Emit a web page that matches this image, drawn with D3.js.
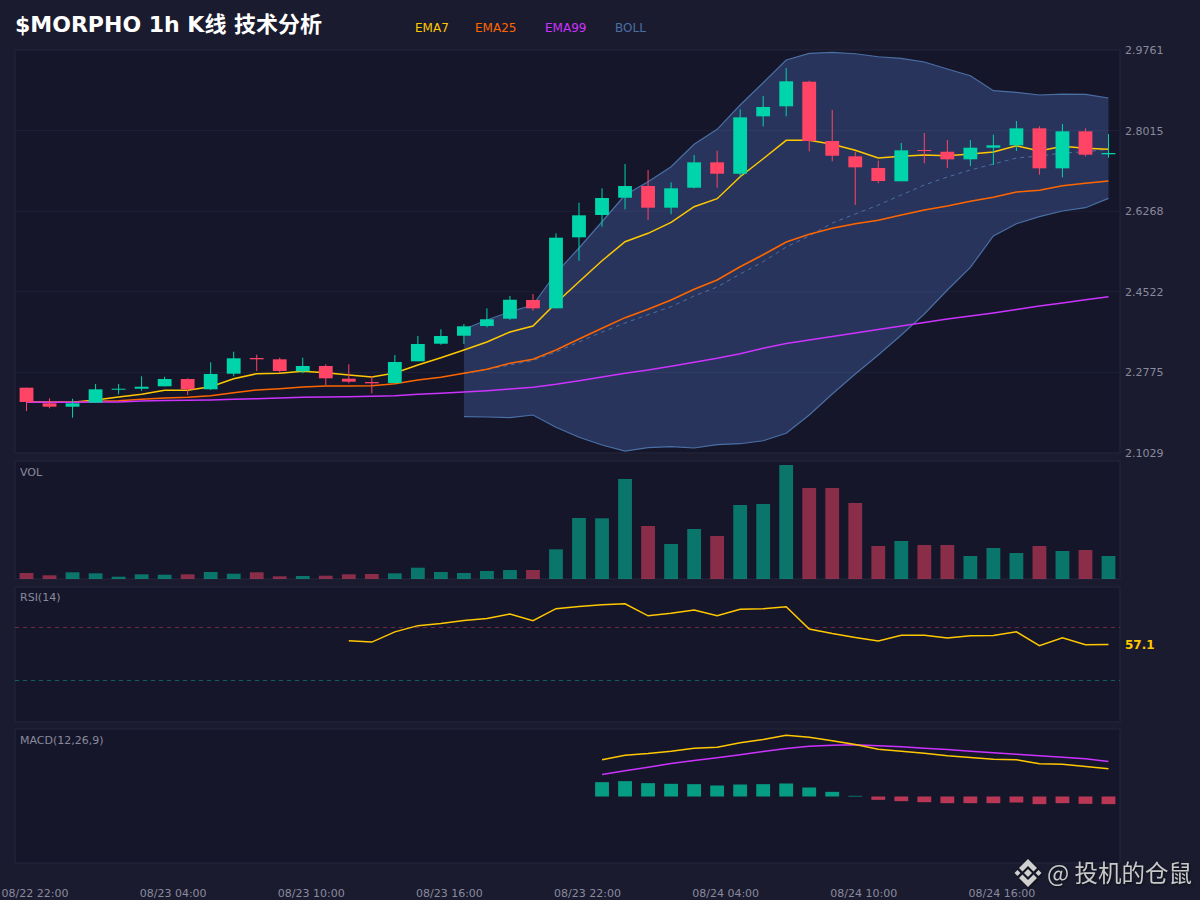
<!DOCTYPE html>
<html>
<head>
<meta charset="utf-8">
<script src="https://cdn.jsdelivr.net/npm/d3@7"></script>
<style>
  html, body { margin: 0; padding: 0; background: #1a1b2e; }
  svg { display: block; }
  text { font-family: "DejaVu Sans", "Noto Sans CJK SC", sans-serif; }
</style>
</head>
<body>
<svg id="chart"></svg>
<script>
const title = "$MORPHO 1h K线 技术分析";
const legendNames = ["EMA7", "EMA25", "EMA99", "BOLL"];

const times = [
  "08/22 22:00","08/22 23:00","08/23 00:00","08/23 01:00","08/23 02:00","08/23 03:00",
  "08/23 04:00","08/23 05:00","08/23 06:00","08/23 07:00","08/23 08:00","08/23 09:00",
  "08/23 10:00","08/23 11:00","08/23 12:00","08/23 13:00","08/23 14:00","08/23 15:00",
  "08/23 16:00","08/23 17:00","08/23 18:00","08/23 19:00","08/23 20:00","08/23 21:00",
  "08/23 22:00","08/23 23:00","08/24 00:00","08/24 01:00","08/24 02:00","08/24 03:00",
  "08/24 04:00","08/24 05:00","08/24 06:00","08/24 07:00","08/24 08:00","08/24 09:00",
  "08/24 10:00","08/24 11:00","08/24 12:00","08/24 13:00","08/24 14:00","08/24 15:00",
  "08/24 16:00","08/24 17:00","08/24 18:00","08/24 19:00","08/24 20:00","08/24 21:00"
];

const priceTicks = [2.9761, 2.8015, 2.6268, 2.4522, 2.2775, 2.1029];

const opens = [2.2444,2.2106,2.2032,2.2119,2.2400,2.2422,2.2474,2.2632,2.2409,2.2747,2.3087,2.3059,
  2.2799,2.2914,2.2639,2.2567,2.2546,2.3016,2.3397,2.3570,2.3781,2.3939,2.4344,2.4164,
  2.5702,2.6186,2.6560,2.6814,2.6344,2.6777,2.7327,2.7080,2.8324,2.8541,2.9074,2.7789,
  2.7457,2.7204,2.6916,2.7594,2.7557,2.7392,2.7644,2.7696,2.8064,2.7197,2.7999,2.7501];
const closes = [2.2134,2.2032,2.2106,2.2409,2.2422,2.2465,2.2632,2.2409,2.2741,2.3081,2.3059,2.2806,
  2.2914,2.2647,2.2574,2.2539,2.3001,2.3391,2.3564,2.3774,2.3926,2.4350,2.4164,2.5694,
  2.6179,2.6554,2.6814,2.6344,2.6764,2.7327,2.7080,2.8302,2.8526,2.9083,2.7789,2.7470,
  2.7219,2.6922,2.7587,2.7572,2.7392,2.7644,2.7696,2.8064,2.7197,2.7999,2.7492,2.7529];
const highs = [2.2444,2.2214,2.2205,2.2524,2.2524,2.2691,2.2682,2.2647,2.2994,2.3224,2.3159,2.3094,
  2.3094,2.2951,2.2951,2.2697,2.3152,2.3564,2.3709,2.3824,2.4164,2.4431,2.4474,2.5789,
  2.6452,2.6764,2.7291,2.7161,2.6894,2.7486,2.7579,2.8476,2.8764,2.9371,2.9095,2.8461,
  2.7557,2.7362,2.7746,2.7962,2.7811,2.7811,2.7926,2.8222,2.8107,2.8157,2.8064,2.7941];
const lows = [2.1939,2.1997,2.1794,2.2119,2.2301,2.2379,2.2474,2.2286,2.2394,2.2691,2.2806,2.2756,
  2.2756,2.2502,2.2539,2.2322,2.2539,2.3016,2.3375,2.3391,2.3752,2.3911,2.4112,2.4164,
  2.5195,2.5932,2.6309,2.6077,2.6201,2.6764,2.6777,2.7015,2.8107,2.8324,2.7566,2.7349,
  2.6402,2.6872,2.6916,2.7306,2.7204,2.7247,2.7269,2.7572,2.7059,2.7002,2.7457,2.7427];

const ema7 = [2.2134,2.2127,2.2127,2.2177,2.2242,2.2301,2.2387,2.2387,2.2465,2.2639,2.2747,2.2756,
  2.2799,2.2769,2.2719,2.2676,2.2762,2.2936,2.3094,2.3261,2.3434,2.3651,2.3781,2.4279,
  2.4740,2.5195,2.5607,2.5789,2.6027,2.6365,2.6539,2.7015,2.7405,2.7804,2.7804,2.7717,
  2.7587,2.7421,2.7457,2.7486,2.7470,2.7507,2.7551,2.7687,2.7572,2.7674,2.7631,2.7609];
const ema25 = [2.2134,2.2127,2.2127,2.2149,2.2162,2.2192,2.2221,2.2236,2.2270,2.2335,2.2394,2.2422,
  2.2459,2.2481,2.2481,2.2487,2.2530,2.2611,2.2669,2.2756,2.2842,2.2972,2.3059,2.3261,
  2.3499,2.3731,2.3961,2.4143,2.4344,2.4576,2.4777,2.5065,2.5325,2.5601,2.5767,2.5897,
  2.5997,2.6071,2.6186,2.6294,2.6381,2.6482,2.6569,2.6684,2.6721,2.6820,2.6872,2.6922];
const ema99 = [2.2134,2.2127,2.2127,2.2134,2.2134,2.2155,2.2166,2.2171,2.2177,2.2192,2.2205,2.2221,
  2.2236,2.2242,2.2249,2.2257,2.2270,2.2301,2.2322,2.2351,2.2379,2.2416,2.2452,2.2517,
  2.2595,2.2676,2.2756,2.2827,2.2907,2.2994,2.3081,2.3180,2.3297,2.3401,2.3477,2.3553,
  2.3629,2.3705,2.3781,2.3856,2.3932,2.3997,2.4062,2.4138,2.4214,2.4279,2.4350,2.4415];

// bollinger only starts at candle 19
const bollStart = 19;
const bollUpper = [2.3709,2.3911,2.4090,2.4236,2.4929,2.5471,2.6040,2.6619,2.6907,2.7232,2.7717,2.8042,
  2.8569,2.9052,2.9544,2.9689,2.9711,2.9680,2.9615,2.9581,2.9501,2.9349,2.9204,2.8879,
  2.8844,2.8786,2.8807,2.8801,2.8721];
const bollMid = [2.2751,2.2838,2.2936,2.3033,2.3217,2.3434,2.3651,2.3846,2.4025,2.4199,2.4431,2.4626,
  2.4907,2.5174,2.5492,2.5731,2.6012,2.6207,2.6402,2.6619,2.6836,2.7009,2.7161,2.7291,
  2.7421,2.7464,2.7529,2.7557,2.7609];
const bollLower = [2.1815,2.1809,2.1794,2.1852,2.1586,2.1369,2.1202,2.1072,2.1144,2.1165,2.1137,2.1209,
  2.1230,2.1295,2.1456,2.1852,2.2307,2.2741,2.3152,2.3586,2.4041,2.4561,2.5052,2.5731,
  2.5997,2.6149,2.6272,2.6344,2.6547];

const volumes = [60,37,67,57,23,47,43,47,70,53,67,27,30,33,47,50,57,113,70,60,80,90,90,297,
  610,607,1000,530,350,500,430,740,750,1140,910,910,760,330,380,340,340,230,310,260,330,280,290,230];

const rsiStart = 14;
const rsiLevels = [70, 30];
const rsi = [60.0,59.0,66.7,71.4,73.1,75.3,76.8,80.2,75.1,84.2,85.9,87.2,87.9,78.8,80.7,83.2,78.8,
  83.7,84.2,85.7,68.9,65.4,62.5,59.8,64.2,64.2,62.0,63.7,64.0,66.7,56.3,62.2,57.0,57.1];

const macdStart = 25;
const dif = [0.1040,0.1172,0.1219,0.1286,0.1371,0.1399,0.1522,0.1617,0.1739,0.1683,0.1579,0.1475,
  0.1342,0.1286,0.1229,0.1153,0.1106,0.1059,0.1040,0.0927,0.0917,0.0851,0.0785];
const dea = [0.0624,0.0728,0.0832,0.0936,0.1021,0.1097,0.1182,0.1276,0.1361,0.1427,0.1456,0.1465,
  0.1437,0.1409,0.1371,0.1333,0.1286,0.1238,0.1200,0.1153,0.1115,0.1068,0.0993];
const macdHist = [0.0406,0.0435,0.0378,0.0359,0.0350,0.0312,0.0340,0.0350,0.0369,0.0255,0.0132,0.0019,
  -0.0095,-0.0132,-0.0161,-0.0189,-0.0189,-0.0189,-0.0170,-0.0217,-0.0189,-0.0208,-0.0217];

const colors = {
  bg: "#1a1b2e", panel: "#15162a", border: "#25263f", grid: "#1f2138", label: "#8a8a9e",
  up: "#00d4aa", down: "#ff4466", ema7: "#ffc800", ema25: "#ff6600", ema99: "#cc33ff", boll: "#4a6fa5"
};
const legendColors = [colors.ema7, colors.ema25, colors.ema99, colors.boll];
const legendX = [415, 475, 545, 615];

const left = 15, right = 1120;
const panels = {
  price: { top: 50, bottom: 453 },
  vol: { top: 461, bottom: 579 },
  rsi: { top: 587, bottom: 722 },
  macd: { top: 729, bottom: 863 }
};

const svg = d3.select("#chart").attr("width", 1200).attr("height", 900);
svg.append("rect").attr("width", 1200).attr("height", 900).attr("fill", colors.bg);

const x = d3.scaleBand().domain(d3.range(times.length)).range([left, right]).paddingInner(0.4).paddingOuter(0.2);
const cx = (i) => x(i) + x.bandwidth() / 2;

const yPrice = d3.scaleLinear().domain([priceTicks[5], priceTicks[0]]).range([panels.price.bottom, panels.price.top]);
const yVol = d3.scaleLinear().domain([0, 1180]).range([panels.vol.bottom, panels.vol.top]);
const yRsi = d3.scaleLinear().domain([0, 100]).range([720.25, 587.75]);
const yMacd = d3.scaleLinear().domain([-0.19, 0.19]).range([863.5, 729.5]);

// panel backgrounds
Object.values(panels).forEach((p) => {
  svg.append("rect")
    .attr("x", left).attr("y", p.top)
    .attr("width", right - left).attr("height", p.bottom - p.top)
    .attr("fill", colors.panel).attr("stroke", colors.border).attr("stroke-width", 1);
});

// price grid
svg.append("g").selectAll("line").data(priceTicks.slice(1, 5)).enter().append("line")
  .attr("x1", left).attr("x2", right)
  .attr("y1", (d) => yPrice(d)).attr("y2", (d) => yPrice(d))
  .attr("stroke", colors.grid).attr("stroke-width", 1);

// price axis labels
const priceAxis = svg.append("g")
  .attr("transform", `translate(${right},0)`)
  .call(d3.axisRight(yPrice).tickValues(priceTicks).tickFormat(d3.format(".4f")).tickSize(0).tickPadding(5));
priceAxis.select(".domain").remove();
priceAxis.selectAll("text").attr("fill", colors.label).style("font-size", "11px");

// time axis labels
const timeAxis = svg.append("g")
  .attr("transform", "translate(8,889)")
  .call(d3.axisBottom(d3.scalePoint().domain(d3.range(times.length)).range([cx(0), cx(47)]))
    .tickValues(d3.range(0, times.length, 6))
    .tickFormat((i) => times[i]).tickSize(0).tickPadding(0));
timeAxis.select(".domain").remove();
timeAxis.selectAll("text").attr("fill", colors.label).style("font-size", "11px");

// bollinger
const bollX = (d, i) => cx(i + bollStart);
svg.append("path")
  .attr("d", d3.area().x(bollX).y0((d, i) => yPrice(bollLower[i])).y1((d) => yPrice(d))(bollUpper))
  .attr("fill", "#5a80d4").attr("fill-opacity", 0.29);

const drawLine = (values, start, scale, color, width, dash) => {
  svg.append("path")
    .attr("d", d3.line().x((d, i) => cx(i + start)).y((d) => scale(d))(values))
    .attr("fill", "none").attr("stroke", color).attr("stroke-width", width)
    .attr("stroke-dasharray", dash || null);
};
drawLine(bollUpper, bollStart, yPrice, colors.boll, 1.2);
drawLine(bollLower, bollStart, yPrice, colors.boll, 1.2);
drawLine(bollMid, bollStart, yPrice, colors.boll, 1, "4,4");
drawLine(ema7, 0, yPrice, colors.ema7, 1.5);
drawLine(ema25, 0, yPrice, colors.ema25, 1.5);
drawLine(ema99, 0, yPrice, colors.ema99, 1.5);

// candles
const candles = times.map((t, i) => ({ i, open: opens[i], close: closes[i], high: highs[i], low: lows[i] }));
const candleColor = (d) => (d.close >= d.open ? colors.up : colors.down);
const candle = svg.append("g").selectAll("g").data(candles).enter().append("g");
candle.append("line")
  .attr("x1", (d) => cx(d.i)).attr("x2", (d) => cx(d.i))
  .attr("y1", (d) => yPrice(d.high)).attr("y2", (d) => yPrice(d.low))
  .attr("stroke", candleColor).attr("stroke-width", 1);
candle.append("rect")
  .attr("x", (d) => x(d.i))
  .attr("width", x.bandwidth())
  .attr("y", (d) => yPrice(Math.max(d.open, d.close)))
  .attr("height", (d) => Math.max(1, yPrice(Math.min(d.open, d.close)) - yPrice(Math.max(d.open, d.close))))
  .attr("fill", candleColor);

// volume
svg.append("g").selectAll("rect").data(volumes).enter().append("rect")
  .attr("x", (d, i) => x(i))
  .attr("width", x.bandwidth())
  .attr("y", (d) => yVol(d))
  .attr("height", (d) => yVol(0) - yVol(d))
  .attr("fill", (d, i) => candleColor(candles[i]))
  .attr("fill-opacity", 0.5);

// rsi
svg.append("g").selectAll("line").data(rsiLevels).enter().append("line")
  .attr("x1", left).attr("x2", right)
  .attr("y1", (d) => yRsi(d)).attr("y2", (d) => yRsi(d))
  .attr("stroke", (d) => (d > 50 ? colors.down : colors.up))
  .attr("stroke-opacity", 0.4).attr("stroke-dasharray", "4,4");
drawLine(rsi, rsiStart, yRsi, colors.ema7, 1.5);
svg.append("text")
  .attr("x", 1125).attr("y", yRsi(rsi[rsi.length - 1]))
  .attr("dy", "0.35em").attr("fill", colors.ema7)
  .style("font-size", "12px").style("font-weight", "bold")
  .text(rsi[rsi.length - 1].toFixed(1));

// macd
svg.append("g").selectAll("rect").data(macdHist).enter().append("rect")
  .attr("x", (d, i) => x(i + macdStart))
  .attr("width", x.bandwidth())
  .attr("y", (d) => yMacd(Math.max(d, 0)))
  .attr("height", (d) => Math.abs(yMacd(d) - yMacd(0)))
  .attr("fill", (d) => (d >= 0 ? colors.up : colors.down))
  .attr("fill-opacity", 0.7);
drawLine(dea, macdStart, yMacd, colors.ema99, 1.5);
drawLine(dif, macdStart, yMacd, colors.ema7, 1.5);

// panel names
[["VOL", 476], ["RSI(14)", 601], ["MACD(12,26,9)", 744]].forEach(([name, y]) => {
  svg.append("text").attr("x", 20).attr("y", y).attr("fill", colors.label)
    .style("font-size", "11px").text(name);
});

// title and legend
svg.append("text").attr("x", 15).attr("y", 32).attr("fill", "#ffffff")
  .style("font-size", "22px").style("font-weight", "bold").text(title);
svg.append("g").selectAll("text").data(legendNames).enter().append("text")
  .attr("x", (d, i) => legendX[i]).attr("y", 32)
  .attr("fill", (d, i) => legendColors[i])
  .style("font-size", "12px").text((d) => d);

// watermark
const mark = svg.append("g").attr("transform", "translate(1028,873)").attr("fill", "#d0d0d0")
  .style("filter", "drop-shadow(1px 1px 1px rgba(0,0,0,0.5))");
mark.append("path").attr("d", "M0,-4L4,0L0,4L-4,0Z");
mark.append("path").attr("d", "M-10.5,-3L-7.5,0L-10.5,3L-13.5,0Z");
mark.append("path").attr("d", "M10.5,-3L13.5,0L10.5,3L7.5,0Z");
mark.append("path").attr("d", "M0,-14L9,-5L5.5,-1.5L0,-7L-5.5,-1.5L-9,-5Z");
mark.append("path").attr("d", "M0,14L9,5L5.5,1.5L0,7L-5.5,1.5L-9,5Z");
svg.append("text").attr("x", 1047).attr("y", 882).attr("fill", "#c9c9c9")
  .style("font-size", "23.5px").style("font-family", "'Noto Sans CJK SC', sans-serif")
  .style("filter", "drop-shadow(1px 1px 1px rgba(0,0,0,0.5))")
  .text("@ 投机的仓鼠");
</script>
</body>
</html>
